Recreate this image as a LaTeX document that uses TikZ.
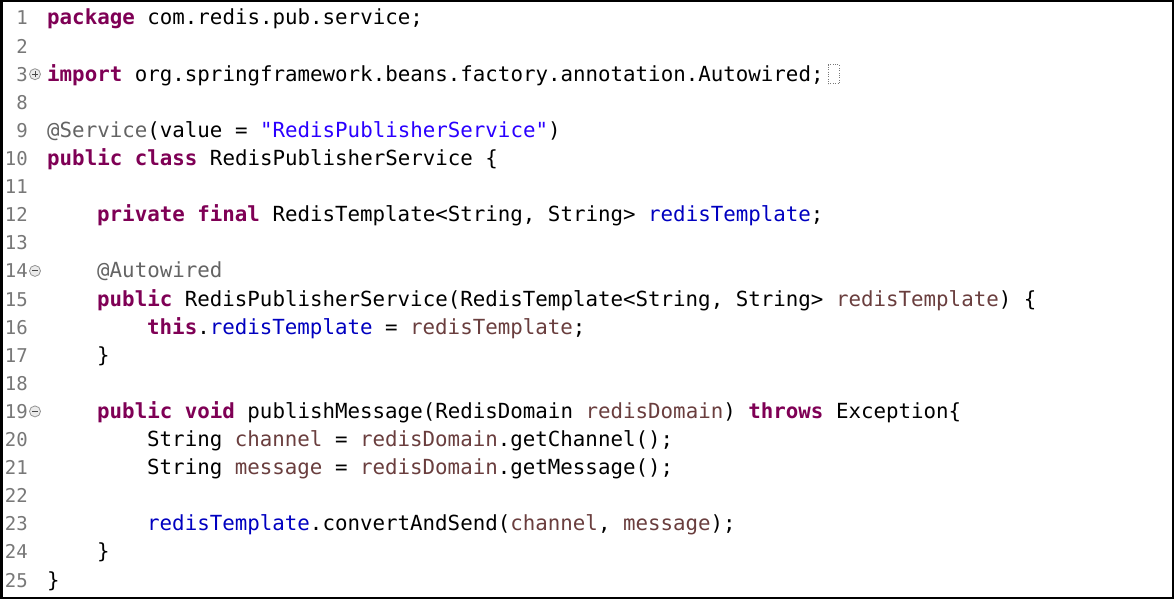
\documentclass[tikz,border=0pt]{standalone}
\usepackage{fontspec}
\newfontfamily\code{DejaVu Sans Mono}
\definecolor{kwc}{HTML}{7F0055}
\definecolor{strc}{HTML}{2A00FF}
\definecolor{fldc}{HTML}{0000C0}
\definecolor{annc}{HTML}{646464}
\definecolor{lvc}{HTML}{6A3E3E}
\definecolor{numc}{HTML}{787878}
\newcommand{\kw}[1]{\textcolor{kwc}{\bfseries #1}}
\newcommand{\fld}[1]{\textcolor{fldc}{#1}}
\newcommand{\strl}[1]{\textcolor{strc}{#1}}
\newcommand{\ann}[1]{\textcolor{annc}{#1}}
\newcommand{\lv}[1]{\textcolor{lvc}{#1}}
\begin{document}
\begin{tikzpicture}[x=1pt,y=-1pt,
  codeline/.style={anchor=base west,inner sep=0pt,font=\code\fontsize{20.8}{24}\selectfont},
  lnum/.style={anchor=base east,inner sep=0pt,text=numc,font=\code\fontsize{19}{24}\selectfont},
  foldicon/.style={circle,draw=numc!80,fill=numc!15,line width=0.8pt,minimum size=11pt,inner sep=0pt}]
\useasboundingbox (0,0) rectangle (1174,599);
\fill[white] (0,0) rectangle (1174,599);
\draw[line width=2.5pt] (1.25,1.25) rectangle (1172.75,597.75);
% line numbers
\foreach \n [count=\k from 0] in {1,2,3,8,9,10,11,12,13,14,15,16,17,18,19,20,21,22,23,24,25}{
  \node[lnum] (n\n) at (28,{25+28.1*\k}) {\n};
}
\node[foldicon] (f3) at (35,{25+28.1*2-7}) {};
\draw[line width=1pt,numc!60!black] ([xshift=-3pt]f3.center) -- ([xshift=3pt]f3.center) ([yshift=-3pt]f3.center) -- ([yshift=3pt]f3.center);
\node[foldicon] (f14) at (35,{25+28.1*9-7}) {};
\draw[line width=1pt,numc!60!black] ([xshift=-3pt]f14.center) -- ([xshift=3pt]f14.center);
\node[foldicon] (f19) at (35,{25+28.1*14-7}) {};
\draw[line width=1pt,numc!60!black] ([xshift=-3pt]f19.center) -- ([xshift=3pt]f19.center);
% code
\node[codeline] (c1) at (47,{25+28.1*0}) {\kw{package} com.redis.pub.service;};
\node[codeline] (c3) at (47,{25+28.1*2}) {\kw{import} org.springframework.beans.factory.annotation.Autowired;};
\node[draw=numc,dotted,minimum width=11pt,minimum height=19pt,inner sep=0pt,anchor=west] (fold) at ([xshift=4pt,yshift=7pt]c3.base east) {};
\node[codeline] (c9) at (47,{25+28.1*4}) {\ann{@Service}(value = \strl{"RedisPublisherService"})};
\node[codeline] (c10) at (47,{25+28.1*5}) {\kw{public} \kw{class} RedisPublisherService \{};
\node[codeline] (c12) at (97,{25+28.1*7}) {\kw{private} \kw{final} RedisTemplate<String, String> \fld{redisTemplate};};
\node[codeline] (c14) at (97,{25+28.1*9}) {\ann{@Autowired}};
\node[codeline] (c15) at (97,{25+28.1*10}) {\kw{public} RedisPublisherService(RedisTemplate<String, String> \lv{redisTemplate}) \{};
\node[codeline] (c16) at (147,{25+28.1*11}) {\kw{this}.\fld{redisTemplate} = \lv{redisTemplate};};
\node[codeline] (c17) at (97,{25+28.1*12}) {\}};
\node[codeline] (c19) at (97,{25+28.1*14}) {\kw{public} \kw{void} publishMessage(RedisDomain \lv{redisDomain}) \kw{throws} Exception\{};
\node[codeline] (c20) at (147,{25+28.1*15}) {String \lv{channel} = \lv{redisDomain}.getChannel();};
\node[codeline] (c21) at (147,{25+28.1*16}) {String \lv{message} = \lv{redisDomain}.getMessage();};
\node[codeline] (c23) at (147,{25+28.1*18}) {\fld{redisTemplate}.convertAndSend(\lv{channel}, \lv{message});};
\node[codeline] (c24) at (97,{25+28.1*19}) {\}};
\node[codeline] (c25) at (47,{25+28.1*20}) {\}};
\end{tikzpicture}
\end{document}
